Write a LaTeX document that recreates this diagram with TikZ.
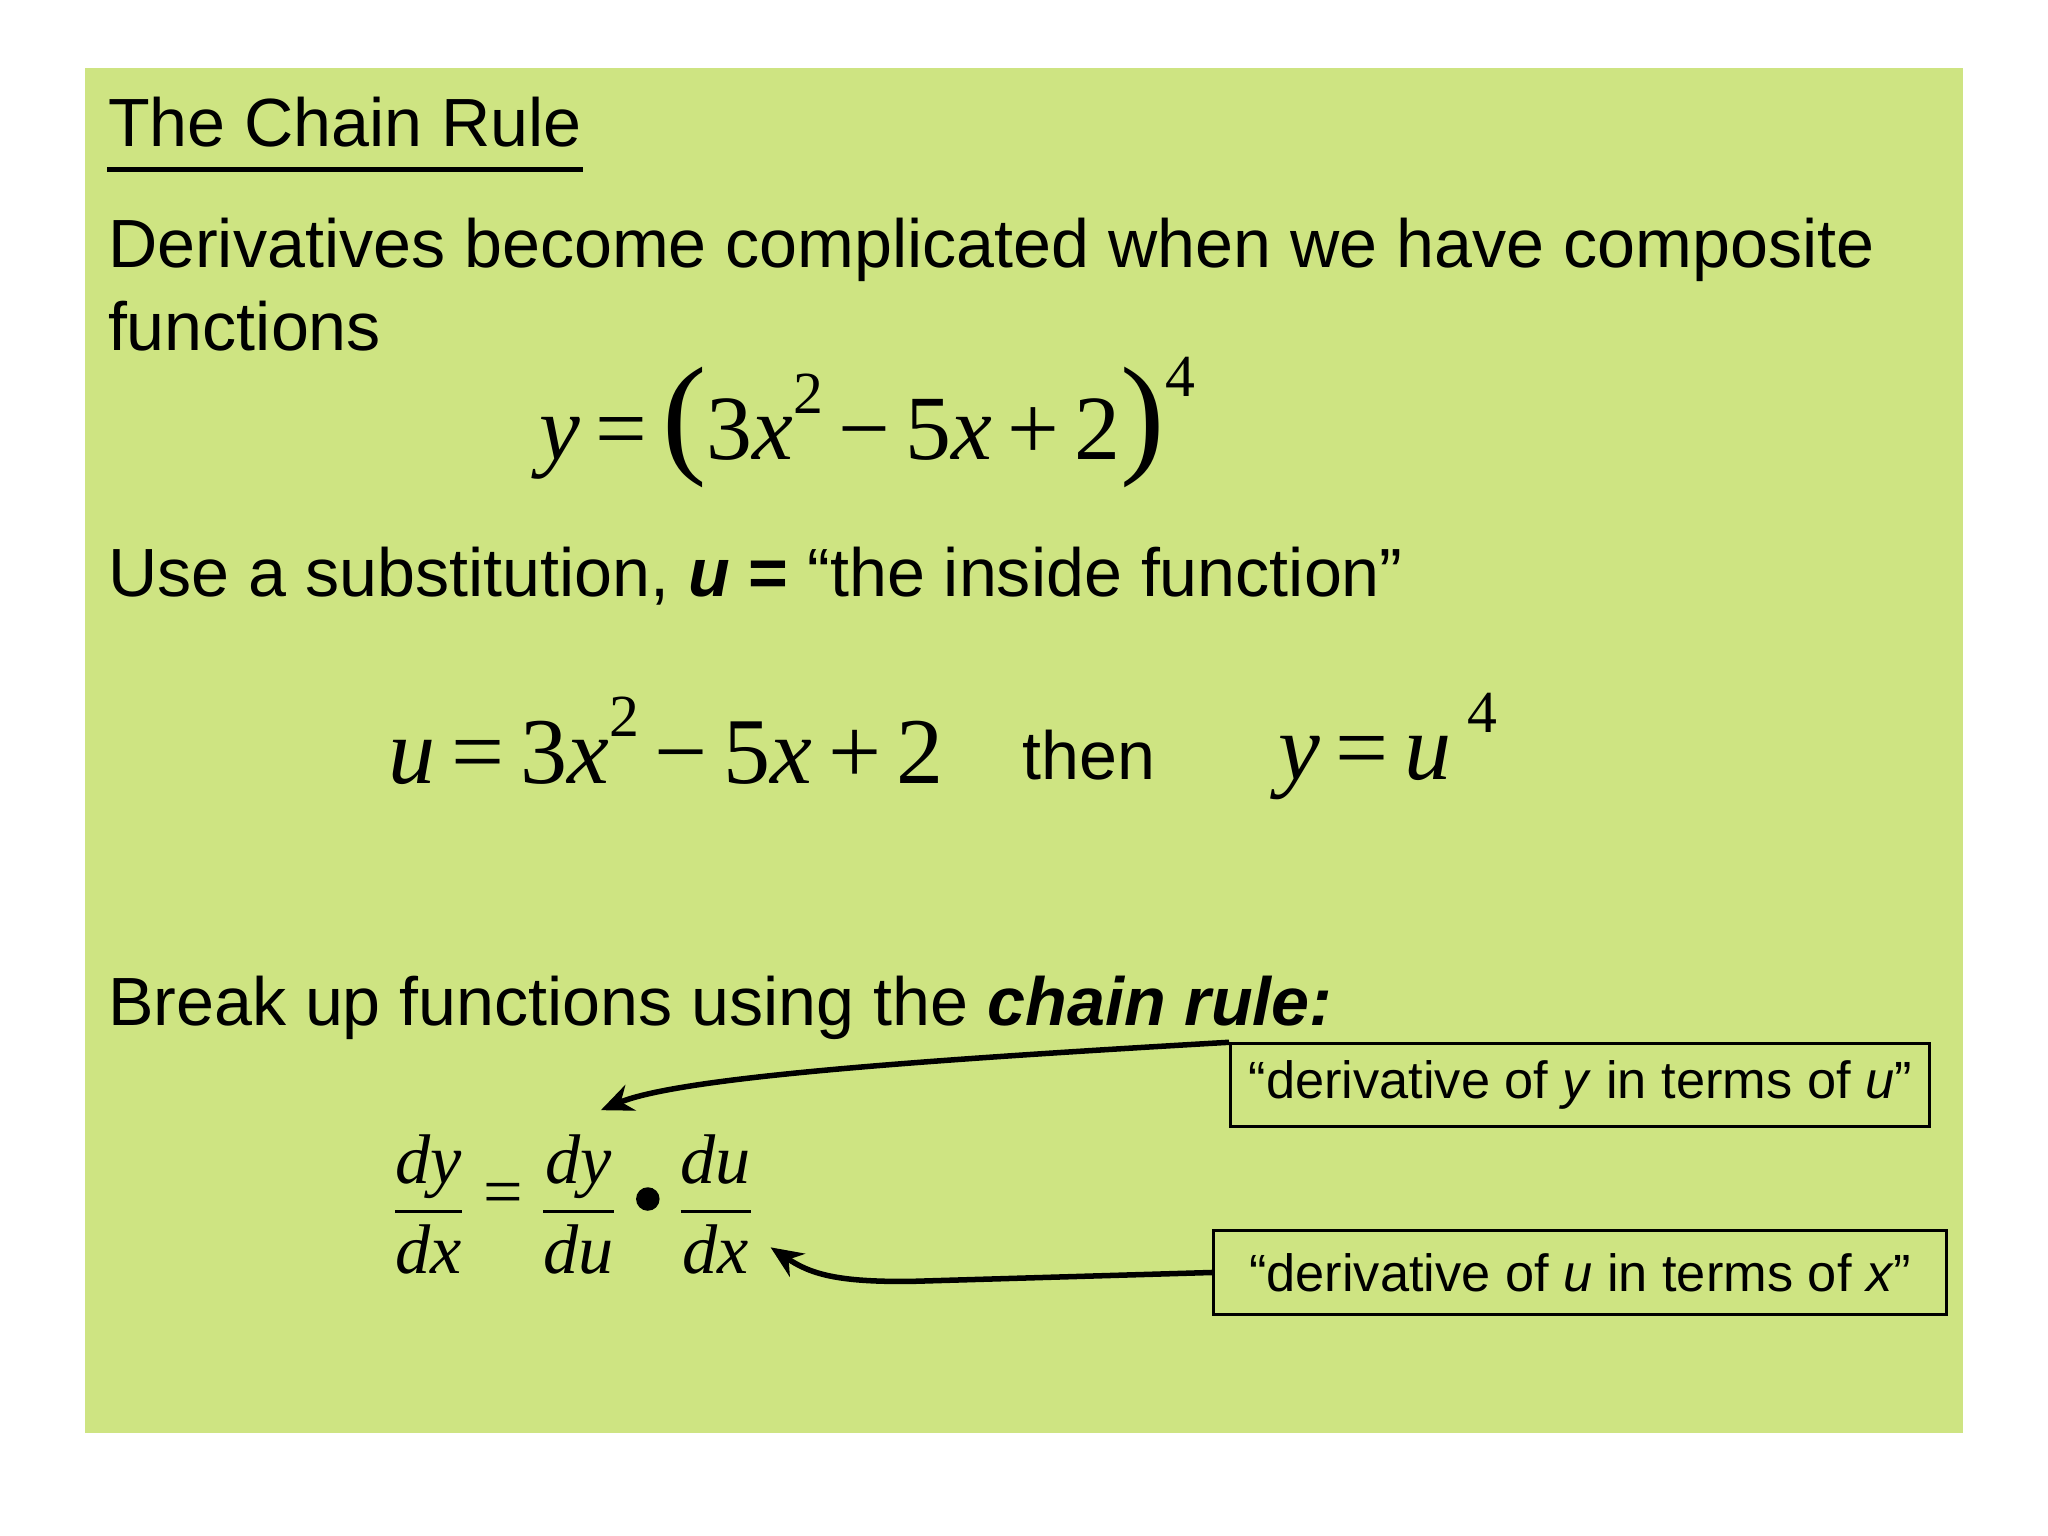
\documentclass[tikz,border=0pt]{standalone}
\usepackage{amsmath}
\usepackage{fontspec}
\setmainfont{Liberation Sans}
\newfontfamily\tms{Liberation Serif}
\usetikzlibrary{arrows.meta}
\definecolor{slide}{RGB}{206,228,130}
\newcommand{\mi}{\,−\,}
\newcommand{\pl}{\,+\,}
\newcommand{\sups}[2]{\raisebox{#1}{\fontsize{13}{13}\selectfont #2}}
\begin{document}
\begin{tikzpicture}[x=0.01cm,y=-0.01cm,
  txt/.style={anchor=base west,inner sep=0pt,font=\fontsize{14.85}{17}\selectfont},
  lbl/.style={draw,line width=0.7pt,inner sep=0pt,font=\fontsize{11.4}{14}\selectfont},
  frc/.style={inner sep=0pt,font=\fontsize{15.3}{18}\selectfont\tms},
  conn/.style={line width=1.2pt,-{Stealth[length=7pt,width=6pt]}}]
\useasboundingbox (0,0) rectangle (1568,1176);
\fill[slide] (65,52) rectangle (1503,1097);
\node[txt] (title) at (82,112) {The Chain Rule};
\draw[line width=1pt] ([yshift=-5]title.base west) -- ([yshift=-5]title.base east);
\node[txt] (l1) at (82,205) {Derivatives become complicated when we have composite};
\node[txt] (l2) at (82,268) {functions};
\node[anchor=base west,inner sep=0pt,font=\fontsize{20}{24}\selectfont\tms] (eq1) at (412,352)
  {\textit{y}\,=\,{\fontsize{29}{29}\selectfont(}3\textit{x}\sups{1.1ex}{2}\mi 5\textit{x}\pl 2{\fontsize{29}{29}\selectfont)}\sups{1.5ex}{4}};
\node[txt] (l3) at (82,457) {Use a substitution, \textbf{\textit{u}} \textbf{=} “the inside function”};
\node[anchor=base west,inner sep=0pt,font=\fontsize{20.5}{24}\selectfont\tms] (eq2) at (297,600)
  {\textit{u}\,=\,3\textit{x}\sups{1.1ex}{2}\mi 5\textit{x}\pl 2};
\node[txt] (then) at (782,597) {then};
\node[anchor=base west,inner sep=0pt,font=\fontsize{20.5}{24}\selectfont\tms] (eq3) at (978,597)
  {\textit{y}\,=\,\textit{u}\,\sups{1.1ex}{4}};
\node[txt] (l4) at (82,785) {Break up functions using the \textbf{\textit{chain rule:}}};
\node[lbl,minimum width=5.35cm,minimum height=0.63cm,anchor=north west] (b1) at (941,798) {“derivative of \textit{y} in terms of \textit{u}”};
\node[lbl,minimum width=5.61cm,minimum height=0.64cm,anchor=north west] (b2) at (928,941) {“derivative of \textit{u} in terms of \textit{x}”};
\node[frc] (f1) at (328,922) {$\displaystyle\frac{\text{\textit{dy}}}{\text{\textit{dx}}}$};
\node[frc] (eqs) at (385,918) {=};
\node[frc] (f2) at (443,922) {$\displaystyle\frac{\text{\textit{dy}}}{\text{\textit{du}}}$};
\fill (496,918) circle (9);
\node[frc] (f3) at (548,922) {$\displaystyle\frac{\text{\textit{du}}}{\text{\textit{dx}}}$};
\coordinate (t1) at (460,850);
\coordinate (t2) at (590,955);
\draw[conn] (b1.north west) .. controls (700,812) and (520,825) .. (t1);
\draw[conn] (b2.west) -- (700,981) .. controls (640,982) and (620,975) .. (t2);
\end{tikzpicture}
\end{document}
